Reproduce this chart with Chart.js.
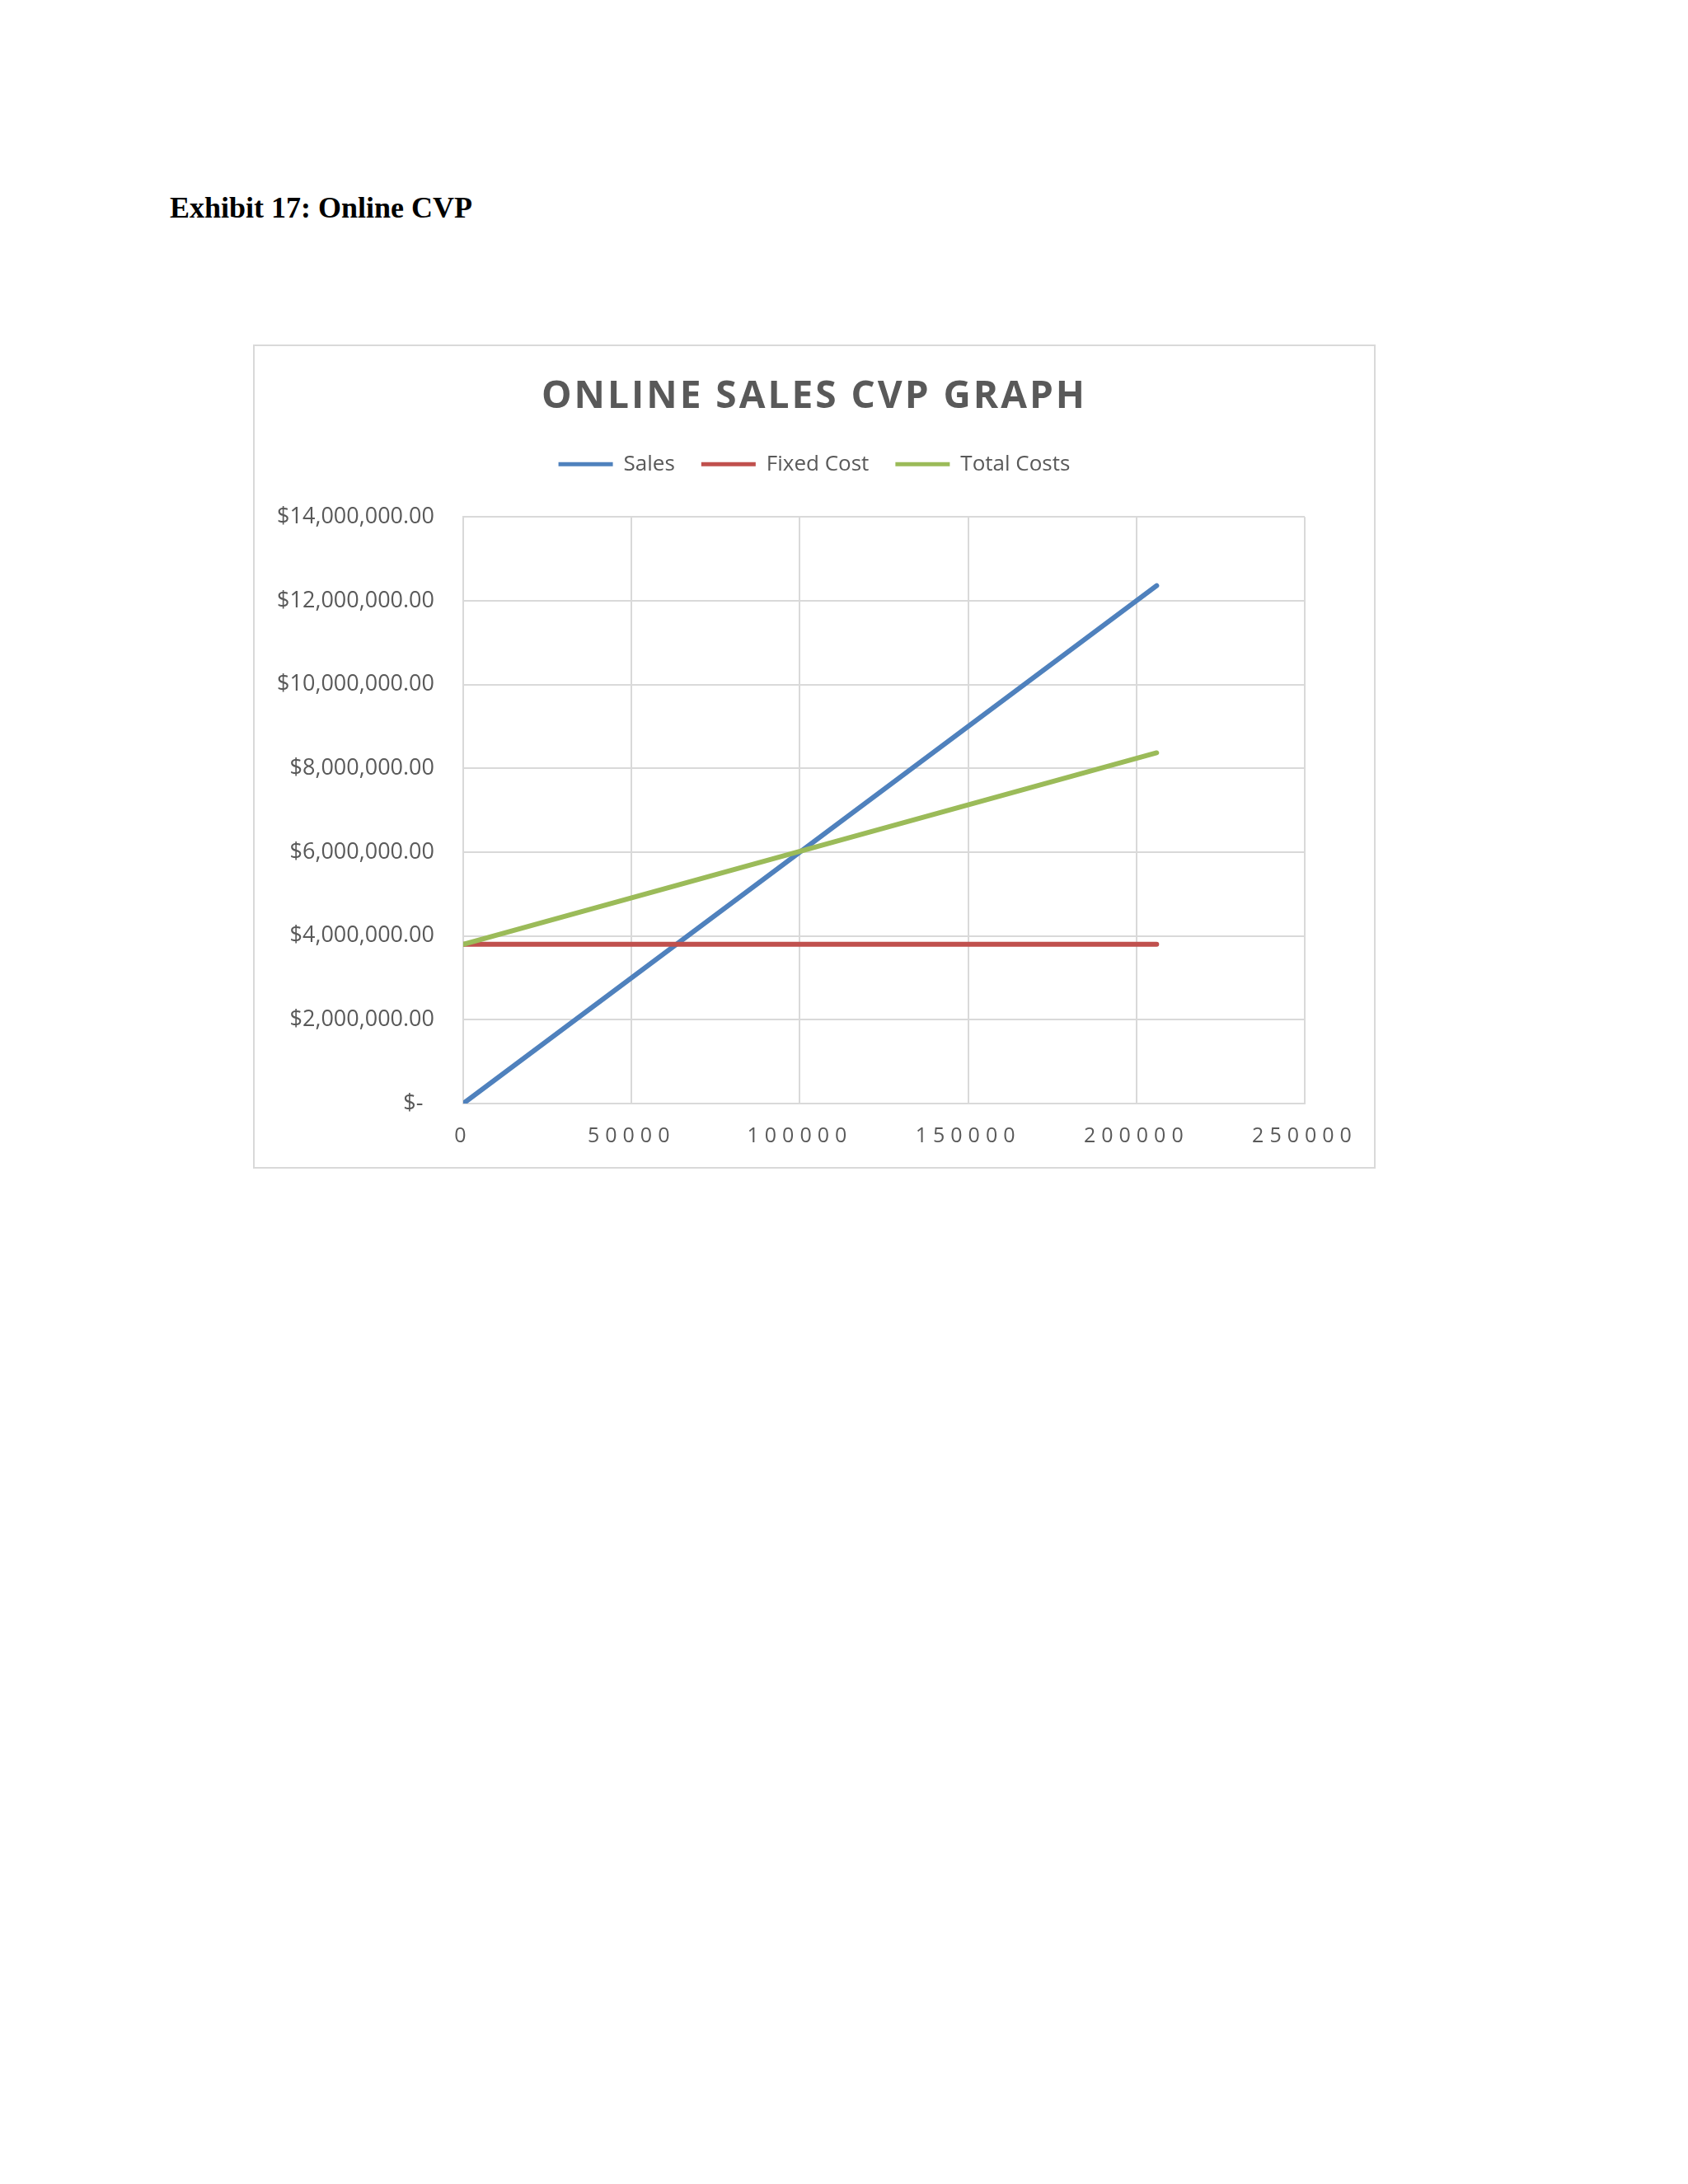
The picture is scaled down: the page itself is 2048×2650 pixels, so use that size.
<!DOCTYPE html>
<html>
<head>
<meta charset="utf-8">
<title>Exhibit 17: Online CVP</title>
<script src="https://cdn.jsdelivr.net/npm/chart.js@4.4.1/dist/chart.umd.min.js"></script>
<style>
    html, body { margin: 0; padding: 0; background: #ffffff; }
    body { width: 2048px; height: 2650px; position: relative; }
    .exhibit {
        position: absolute; left: 206px; top: 234px;
        font-family: 'Liberation Serif', serif; font-weight: bold;
        font-size: 36px; line-height: 36px; color: #000000;
    }
    .chart-box {
        position: absolute; left: 307px; top: 418px;
        width: 1358px; height: 996px;
        border: 2px solid #d9d9d9; background: #ffffff;
    }
</style>
</head>
<body>
<div class="exhibit">Exhibit 17: Online CVP</div>
<div class="chart-box"><canvas id="cvpChart"></canvas></div>

<script>
// Values
const units = [0, 206000];
const sales = [0, 12360000];
const fixedCost = [3800000, 3800000];
const totalCosts = [3800000, 8370000];

const seriesNames = ['Sales', 'Fixed Cost', 'Total Costs'];
const seriesColors = ['#4f81bd', '#c0504d', '#9bbb59'];

const xTickLabels = ['0', '50000', '100000', '150000', '200000', '250000'];
const yTickLabels = ['$-\u2002', '$2,000,000.00', '$4,000,000.00', '$6,000,000.00',
    '$8,000,000.00', '$10,000,000.00', '$12,000,000.00', '$14,000,000.00'];

const textColor = '#595959';
const gridColor = '#d9d9d9';

// Turn a series into {x, y} points on the units axis
function toPoints(values) {
    return units.map((x, i) => ({ x: x, y: values[i] }));
}

// Canvas letter spacing for a single draw method (title, x labels)
function spaceText(target, method, spacing) {
    if (!target || target['_spaced_' + method]) return;
    const original = target[method];
    target[method] = function (...args) {
        const ctx = this.ctx;
        const prev = ctx.letterSpacing;
        ctx.letterSpacing = spacing;
        const out = original.apply(this, args);
        ctx.letterSpacing = prev;
        return out;
    };
    target['_spaced_' + method] = true;
}

const letterSpacingPlugin = {
    id: 'letterSpacing',
    beforeDraw(chart) {
        spaceText(chart.titleBlock, 'draw', '3px');
        spaceText(chart.scales.x, 'drawLabels', '7px');
    }
};

// Extra room between the legend and the plot area
const legendGapPlugin = {
    id: 'legendGap',
    afterInit(chart) {
        const legend = chart.legend;
        if (!legend) return;
        const fit = legend.fit;
        legend.fit = function () {
            fit.call(this);
            this.height += 41;
        };
    }
};

// Sales first in the legend, but drawn under the cost lines like the original
const drawOrder = [3, 2, 1];

const datasets = [sales, fixedCost, totalCosts].map((values, i) => ({
    label: seriesNames[i],
    data: toPoints(values),
    borderColor: seriesColors[i],
    backgroundColor: seriesColors[i],
    borderWidth: 6,
    borderCapStyle: 'round',
    pointRadius: 0,
    pointHoverRadius: 0,
    showLine: true,
    tension: 0,
    order: drawOrder[i]
}));

new Chart(document.getElementById('cvpChart'), {
    type: 'scatter',
    data: { datasets: datasets },
    options: {
        responsive: true,
        maintainAspectRatio: false,
        devicePixelRatio: 1,
        animation: false,
        layout: { padding: 0 },
        plugins: {
            title: {
                display: true,
                text: 'ONLINE SALES CVP GRAPH',
                color: textColor,
                font: { family: "'Open Sans', sans-serif", size: 46, weight: 'bold' },
                padding: { top: 34, bottom: 9 }
            },
            legend: {
                display: true,
                position: 'top',
                labels: {
                    color: textColor,
                    font: { family: "'Open Sans', sans-serif", size: 26 },
                    boxWidth: 66,
                    boxHeight: 5,
                    padding: 32,
                    sort: (a, b) => a.datasetIndex - b.datasetIndex,
                    generateLabels: (chart) =>
                        Chart.defaults.plugins.legend.labels.generateLabels(chart)
                            .map(item => Object.assign(item, { lineWidth: 0 }))
                }
            },
            tooltip: { enabled: false }
        },
        scales: {
            x: {
                type: 'linear',
                min: 0,
                max: 250000,
                ticks: {
                    stepSize: 50000,
                    color: textColor,
                    font: { family: "'Open Sans', sans-serif", size: 25 },
                    padding: 25,
                    maxRotation: 0,
                    callback: (value, index) => xTickLabels[index]
                },
                grid: { color: gridColor, lineWidth: 2, drawTicks: false },
                border: { color: gridColor, width: 2 },
                afterFit: (scale) => { scale.height = 77; }
            },
            y: {
                type: 'linear',
                min: 0,
                max: 14000000,
                ticks: {
                    stepSize: 2000000,
                    color: textColor,
                    font: { family: "'Open Sans', sans-serif", size: 27 },
                    padding: 35,
                    callback: (value, index) => yTickLabels[index]
                },
                grid: { color: gridColor, lineWidth: 2, drawTicks: false },
                border: { color: gridColor, width: 2 },
                afterFit: (scale) => { scale.width = 253; }
            },
            // empty right-hand space so the plot ends where the original does
            rightGap: {
                type: 'linear',
                position: 'right',
                ticks: { display: false },
                grid: { display: false },
                border: { display: false },
                afterFit: (scale) => { scale.width = 84; }
            }
        }
    },
    plugins: [letterSpacingPlugin, legendGapPlugin]
});
</script>
</body>
</html>
